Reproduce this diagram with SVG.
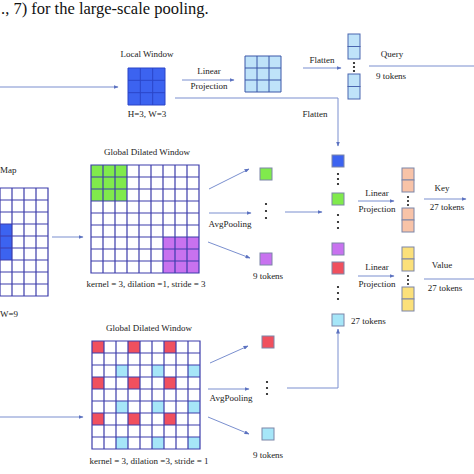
<svg xmlns="http://www.w3.org/2000/svg" width="474" height="474" viewBox="0 0 474 474">
<defs>
<marker id="ah" markerWidth="5" markerHeight="4" refX="4.5" refY="2" orient="auto" markerUnits="userSpaceOnUse">
<path d="M0,0 L5,2 L0,4 Z" fill="#5c72c0"/>
</marker>
<style>
.ln{stroke:#7a8fcf;stroke-width:1;fill:none}
.t{font-family:"Liberation Serif","Times New Roman",serif;font-size:9px;fill:#222}
.g{stroke:#3c3cab;stroke-width:1.2;fill:none}
.dot{fill:#111}
.tk{stroke:#7d86a8;stroke-width:1}
</style>
</defs>
<rect width="474" height="474" fill="#fff"/>
<text x="1" y="14" font-family="Liberation Serif, serif" font-size="16.5" fill="#111">., 7) for the large-scale pooling.</text>

<g id="connectors">
<line class="ln" x1="0" y1="87" x2="118" y2="87" marker-end="url(#ah)"/>
<line class="ln" x1="182" y1="80" x2="234" y2="80" marker-end="url(#ah)"/>
<line class="ln" x1="303" y1="68" x2="341" y2="68" marker-end="url(#ah)"/>
<line class="ln" x1="369" y1="66" x2="474" y2="66"/>
<polyline class="ln" points="175,98 338,98 338,146" marker-end="url(#ah)"/>
<line class="ln" x1="52" y1="237" x2="83" y2="237" marker-end="url(#ah)"/>
<line class="ln" x1="209" y1="189" x2="249" y2="169" marker-end="url(#ah)"/>
<line class="ln" x1="209" y1="213" x2="251" y2="213" marker-end="url(#ah)"/>
<line class="ln" x1="208" y1="242" x2="250" y2="258" marker-end="url(#ah)"/>
<line class="ln" x1="285" y1="212" x2="322" y2="212" marker-end="url(#ah)"/>
<line class="ln" x1="358" y1="201" x2="394" y2="201" marker-end="url(#ah)"/>
<line class="ln" x1="424" y1="199" x2="466" y2="199" marker-end="url(#ah)"/>
<line class="ln" x1="358" y1="276" x2="394" y2="276" marker-end="url(#ah)"/>
<line class="ln" x1="424" y1="279" x2="474" y2="279"/>
<line class="ln" x1="0" y1="417" x2="83" y2="417" marker-end="url(#ah)"/>
<line class="ln" x1="210" y1="363" x2="248" y2="346" marker-end="url(#ah)"/>
<line class="ln" x1="208" y1="389" x2="249" y2="389" marker-end="url(#ah)"/>
<line class="ln" x1="208" y1="417" x2="249" y2="434" marker-end="url(#ah)"/>
<polyline class="ln" points="287,388 338,388 338,329" marker-end="url(#ah)"/>
</g>

<g id="local-window">
<text class="t" x="147" y="57" text-anchor="middle">Local Window</text>
<rect x="128" y="68" width="37" height="37" fill="#3c63f0"/>
<path d="M128,68H165V105H128Z M140.3,68V105 M152.7,68V105 M128,80.3H165 M128,92.7H165" stroke="#2a45c8" stroke-width="1" fill="none"/>
<text class="t" x="147" y="117" text-anchor="middle">H=3, W=3</text>
</g>

<g id="linear-projection-q">
<text class="t" x="209" y="74" text-anchor="middle">Linear</text>
<text class="t" x="209" y="89" text-anchor="middle">Projection</text>
</g>

<g id="projected-window">
<rect x="245" y="56" width="36" height="36" fill="#bfe3f9"/>
<path d="M245,56H281V92H245Z M257,56V92 M269,56V92 M245,68H281 M245,80H281" stroke="#3a56a8" stroke-width="1" fill="none"/>
</g>

<g id="flatten-labels">
<text class="t" x="322" y="63" text-anchor="middle">Flatten</text>
<text class="t" x="315" y="117" text-anchor="middle">Flatten</text>
</g>

<g id="query-column">
<rect x="348" y="34" width="12" height="12.5" fill="#bfe3f9" stroke="#4a66b0"/>
<rect x="348" y="46.5" width="12" height="12.5" fill="#bfe3f9" stroke="#4a66b0"/>
<circle class="dot" cx="354" cy="63" r="1.1"/><circle class="dot" cx="354" cy="67" r="1.1"/><circle class="dot" cx="354" cy="71" r="1.1"/>
<rect x="348" y="74" width="12" height="12.5" fill="#bfe3f9" stroke="#4a66b0"/>
<rect x="348" y="86.5" width="12" height="12.5" fill="#bfe3f9" stroke="#4a66b0"/>
<text class="t" x="392" y="57" text-anchor="middle">Query</text>
<text class="t" x="391" y="79" text-anchor="middle">9 tokens</text>
</g>

<g id="feature-map">
<text class="t" x="0" y="173">Map</text>
<rect x="-60" y="188" width="108" height="108" fill="#fff"/>
<rect x="-24" y="224" width="36" height="36" fill="#3c63f0"/>
<path class="g" d="M-60,188H48V296H-60Z M0,188V296 M12,188V296 M24,188V296 M36,188V296 M-60,200H48 M-60,212H48 M-60,224H48 M-60,236H48 M-60,248H48 M-60,260H48 M-60,272H48 M-60,284H48"/>
<text class="t" x="0" y="317">W=9</text>
</g>

<g id="global-window-1">
<text class="t" x="147" y="155" text-anchor="middle">Global Dilated Window</text>
<rect x="91" y="165" width="108" height="108" fill="#fff"/>
<rect x="91" y="165" width="36" height="36" fill="#80ea4c"/>
<rect x="163" y="237" width="36" height="36" fill="#c872ef"/>
<path class="g" d="M91,165H199V273H91Z M103,165V273 M115,165V273 M127,165V273 M139,165V273 M151,165V273 M163,165V273 M175,165V273 M187,165V273 M91,177H199 M91,189H199 M91,201H199 M91,213H199 M91,225H199 M91,237H199 M91,249H199 M91,261H199"/>
<text class="t" x="146" y="287" text-anchor="middle">kernel = 3, dilation =1, stride = 3</text>
</g>

<g id="pool-1">
<text class="t" x="230" y="227" text-anchor="middle">AvgPooling</text>
<rect class="tk" x="260" y="168" width="12" height="12" fill="#80ea4c"/>
<circle class="dot" cx="266" cy="204" r="1.1"/><circle class="dot" cx="266" cy="211" r="1.1"/><circle class="dot" cx="266" cy="218" r="1.1"/>
<rect class="tk" x="260" y="253" width="12" height="12" fill="#c872ef"/>
<text class="t" x="268" y="279" text-anchor="middle">9 tokens</text>
</g>

<g id="concat-column">
<rect class="tk" x="332" y="155" width="12" height="12" fill="#3c63f0"/>
<circle class="dot" cx="338" cy="174" r="1.1"/><circle class="dot" cx="338" cy="179" r="1.1"/><circle class="dot" cx="338" cy="184" r="1.1"/>
<rect class="tk" x="332" y="193" width="12" height="12" fill="#80ea4c"/>
<circle class="dot" cx="338" cy="215" r="1.1"/><circle class="dot" cx="338" cy="222" r="1.1"/><circle class="dot" cx="338" cy="228" r="1.1"/>
<rect class="tk" x="332" y="243" width="12" height="12" fill="#c872ef"/>
<rect class="tk" x="332" y="262" width="12" height="12" fill="#f0505e"/>
<circle class="dot" cx="338" cy="287" r="1.1"/><circle class="dot" cx="338" cy="293" r="1.1"/><circle class="dot" cx="338" cy="299" r="1.1"/>
<rect class="tk" x="332" y="314" width="12" height="12" fill="#a6e6f8"/>
<text class="t" x="351" y="324">27 tokens</text>
</g>

<g id="key-branch">
<text class="t" x="377" y="196" text-anchor="middle">Linear</text>
<text class="t" x="377" y="212" text-anchor="middle">Projection</text>
<rect class="tk" x="402" y="168" width="12" height="12" fill="#f8c3a8"/>
<rect class="tk" x="402" y="180" width="12" height="12" fill="#f8c3a8"/>
<circle class="dot" cx="408" cy="197" r="1"/><circle class="dot" cx="408" cy="201" r="1"/><circle class="dot" cx="408" cy="205" r="1"/>
<rect class="tk" x="402" y="208" width="12" height="12" fill="#f8c3a8"/>
<rect class="tk" x="402" y="220" width="12" height="12" fill="#f8c3a8"/>
<text class="t" x="442" y="191" text-anchor="middle">Key</text>
<text class="t" x="447" y="210" text-anchor="middle">27 tokens</text>
</g>

<g id="value-branch">
<text class="t" x="377" y="270" text-anchor="middle">Linear</text>
<text class="t" x="377" y="287" text-anchor="middle">Projection</text>
<rect class="tk" x="402" y="247" width="12" height="12" fill="#fbe07a"/>
<rect class="tk" x="402" y="259" width="12" height="12" fill="#fbe07a"/>
<circle class="dot" cx="408" cy="276" r="1"/><circle class="dot" cx="408" cy="280" r="1"/><circle class="dot" cx="408" cy="284" r="1"/>
<rect class="tk" x="402" y="287" width="12" height="12" fill="#fbe07a"/>
<rect class="tk" x="402" y="299" width="12" height="12" fill="#fbe07a"/>
<text class="t" x="442" y="268" text-anchor="middle">Value</text>
<text class="t" x="445" y="291" text-anchor="middle">27 tokens</text>
</g>

<g id="global-window-2">
<text class="t" x="149" y="331" text-anchor="middle">Global Dilated Window</text>
<rect x="92" y="341" width="108" height="108" fill="#fff"/>
<g fill="#f0505e">
<rect x="92" y="341" width="12" height="12"/><rect x="128" y="341" width="12" height="12"/><rect x="164" y="341" width="12" height="12"/>
<rect x="92" y="377" width="12" height="12"/><rect x="128" y="377" width="12" height="12"/><rect x="164" y="377" width="12" height="12"/>
<rect x="92" y="413" width="12" height="12"/><rect x="128" y="413" width="12" height="12"/><rect x="164" y="413" width="12" height="12"/>
</g>
<g fill="#a6e6f8">
<rect x="116" y="365" width="12" height="12"/><rect x="152" y="365" width="12" height="12"/><rect x="188" y="365" width="12" height="12"/>
<rect x="116" y="401" width="12" height="12"/><rect x="152" y="401" width="12" height="12"/><rect x="188" y="401" width="12" height="12"/>
<rect x="116" y="437" width="12" height="12"/><rect x="152" y="437" width="12" height="12"/><rect x="188" y="437" width="12" height="12"/>
</g>
<path class="g" stroke-width="1.5" d="M92,341H200V449H92Z M104,341V449 M116,341V449 M128,341V449 M140,341V449 M152,341V449 M164,341V449 M176,341V449 M188,341V449 M92,353H200 M92,365H200 M92,377H200 M92,389H200 M92,401H200 M92,413H200 M92,425H200 M92,437H200"/>
<text class="t" x="149" y="464" text-anchor="middle">kernel = 3, dilation =3, stride = 1</text>
</g>

<g id="pool-2">
<text class="t" x="231" y="401" text-anchor="middle">AvgPooling</text>
<rect class="tk" x="262" y="336" width="12" height="12" fill="#f0505e"/>
<circle class="dot" cx="267" cy="382" r="1.1"/><circle class="dot" cx="267" cy="388" r="1.1"/><circle class="dot" cx="267" cy="394" r="1.1"/>
<rect class="tk" x="262" y="428" width="12" height="12" fill="#a6e6f8"/>
<text class="t" x="268" y="458" text-anchor="middle">9 tokens</text>
</g>
</svg>
